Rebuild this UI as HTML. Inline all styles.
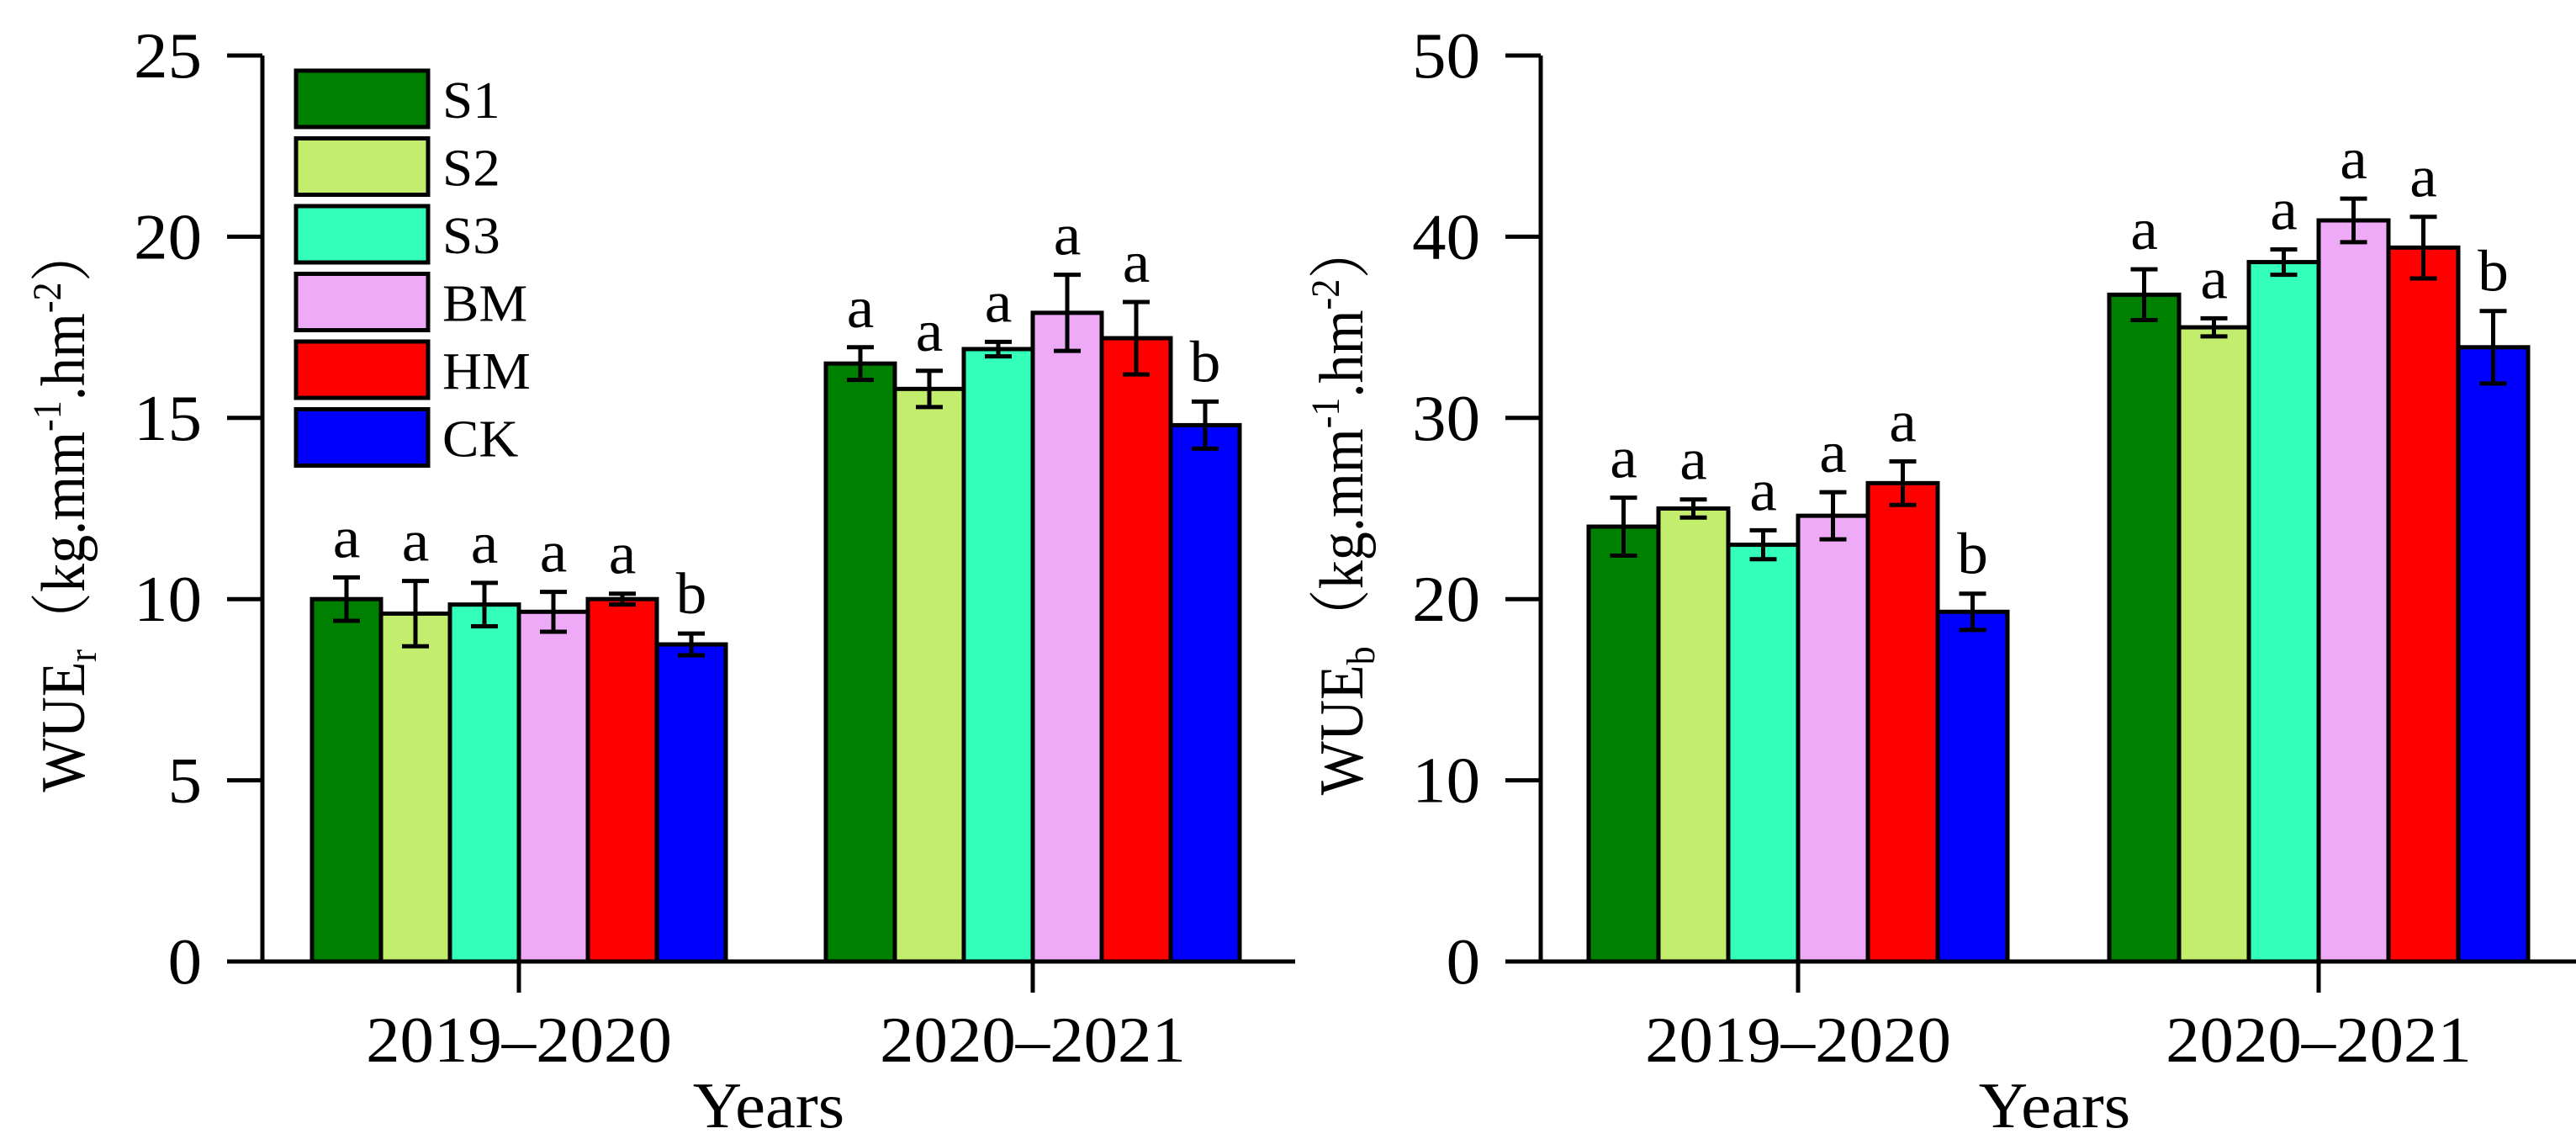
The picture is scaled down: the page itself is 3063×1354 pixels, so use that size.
<!DOCTYPE html>
<html><head><meta charset="utf-8"><style>
html,body{margin:0;padding:0;background:#fff;}
svg{display:block;font-family:"Liberation Serif","Noto Serif CJK SC",serif;}
</style></head><body>
<svg id="chart" width="3063" height="1354" viewBox="0 0 3063 1354"></svg>
<script>
const categories = ["2019–2020", "2020–2021"];
const series = ["S1", "S2", "S3", "BM", "HM", "CK"];
const colors = ["#008000", "#c3ee6d", "#33ffbb", "#eeaaf6", "#ff0000", "#0000ff"];
const leftValues = [[10.0, 16.5], [9.6, 15.8], [9.85, 16.9], [9.65, 17.9], [10.0, 17.2], [8.75, 14.8]];
const leftErrors = [[0.6, 0.45], [0.9, 0.5], [0.6, 0.2], [0.55, 1.05], [0.15, 1.0], [0.3, 0.65]];
const leftLetters = [["a", "a"], ["a", "a"], ["a", "a"], ["a", "a"], ["a", "a"], ["b", "b"]];
const leftTicks = [0, 5, 10, 15, 20, 25];
const rightValues = [[24.0, 36.8], [25.0, 35.0], [23.0, 38.6], [24.6, 40.9], [26.4, 39.4], [19.3, 33.9]];
const rightErrors = [[1.6, 1.4], [0.5, 0.5], [0.8, 0.7], [1.3, 1.2], [1.2, 1.7], [1.0, 2.0]];
const rightLetters = [["a", "a"], ["a", "a"], ["a", "a"], ["a", "a"], ["a", "a"], ["b", "b"]];
const rightTicks = [0, 10, 20, 30, 40, 50];

const NS = "http://www.w3.org/2000/svg";
const svg = document.getElementById("chart");
const SX = 1.05;
function mk(tag, attrs, parent, text) {
  const e = document.createElementNS(NS, tag);
  for (const k in attrs) e.setAttribute(k, attrs[k]);
  if (text !== undefined) e.textContent = text;
  (parent || svg).appendChild(e);
  return e;
}
function txt(x, y, size, anchor, str, parent) {
  return mk("text", {x: 0, y: 0, transform: `translate(${x},${y}) scale(${SX},1)`, "font-size": size, "text-anchor": anchor}, parent, str);
}

function panel(p) {
  const g = mk("g", {});
  
  
  const y = v => p.y0 - (v / p.max) * (p.y0 - p.yTop);
  const catX = i => p.cx[i];
  const bw = p.bw;
  for (let s = 0; s < series.length; s++) {
    for (let c = 0; c < categories.length; c++) {
      const v = p.values[s][c], e = p.errors[s][c];
      const x = catX(c) + (s - 3) * bw;
      const r = mk("rect", {x: x, y: y(v), width: bw, height: p.y0 - y(v), fill: colors[s], stroke: "#000", "stroke-width": 5}, g);
      
      
      const mx = x + bw / 2;
      const eb = mk("path", {d: `M${mx - 16},${y(v + e)}H${mx + 16}M${mx},${y(v + e)}V${y(v - e)}M${mx - 16},${y(v - e)}H${mx + 16}`, stroke: "#000", "stroke-width": 5, fill: "none"}, g);
      
      
      const t = txt(mx, y(v + e) - 24, 70, "middle", p.letters[s][c], g);
      
      
    }
  }
  const ax = mk("path", {d: `M${p.x0},${p.yTop}V${p.y0}M${p.x0 - 42},${p.y0}H${p.xEnd}`, stroke: "#000", "stroke-width": 5, fill: "none"}, g);
  
  
  p.ticks.forEach(t => {
    const tk = mk("path", {d: `M${p.x0 - 42},${y(t)}H${p.x0}`, stroke: "#000", "stroke-width": 5}, g);
    
    
    const tl = txt(p.x0 - 72, y(t) + 26, 77, "end", String(t), g);
    
    
  });
  categories.forEach((c, i) => {
    const tk = mk("path", {d: `M${catX(i)},${p.y0}V${p.y0 + 37}`, stroke: "#000", "stroke-width": 5}, g);
    
    
    const tl = txt(catX(i), 1262, 77, "middle", c, g);
    
    
  });
  const xt = txt(p.yearsX, 1340, 77, "middle", "Years", g);
  
  
  const yt = mk("text", {transform: `translate(${p.titleX},${(p.yTop + p.y0) / 2}) rotate(-90) scale(0.92,1)`, "font-size": 74, "text-anchor": "middle"}, g);
  
  
  mk("tspan", {}, yt, "WUE");
  mk("tspan", {"font-size": 48, dy: 14}, yt, p.sub);
  mk("tspan", {dy: -14}, yt, "（kg.mm");
  mk("tspan", {"font-size": 48, dy: -28}, yt, "-1");
  mk("tspan", {dy: 28}, yt, ".hm");
  mk("tspan", {"font-size": 48, dy: -28}, yt, "-2");
  mk("tspan", {dy: 28}, yt, "）");
}

panel({name: "left-panel", x0: 312, xEnd: 1540, y0: 1143, yTop: 66, max: 25, cx: [617, 1228], bw: 82,
  values: leftValues, errors: leftErrors, letters: leftLetters, ticks: leftTicks, yearsX: 914, titleX: 100, sub: "r"});
panel({name: "right-panel", x0: 1832, xEnd: 3063, y0: 1143, yTop: 66, max: 50, cx: [2138, 2757], bw: 83,
  values: rightValues, errors: rightErrors, letters: rightLetters, ticks: rightTicks, yearsX: 2443, titleX: 1620, sub: "b"});

const lg = mk("g", {});


series.forEach((s, i) => {
  const yy = 84 + i * 80.5;
  const r = mk("rect", {x: 352, y: yy, width: 157, height: 67, fill: colors[i], stroke: "#000", "stroke-width": 5}, lg);
  
  
  const t = txt(526, yy + 56, 62, "start", s, lg);
  
  
});
</script>
</body></html>
